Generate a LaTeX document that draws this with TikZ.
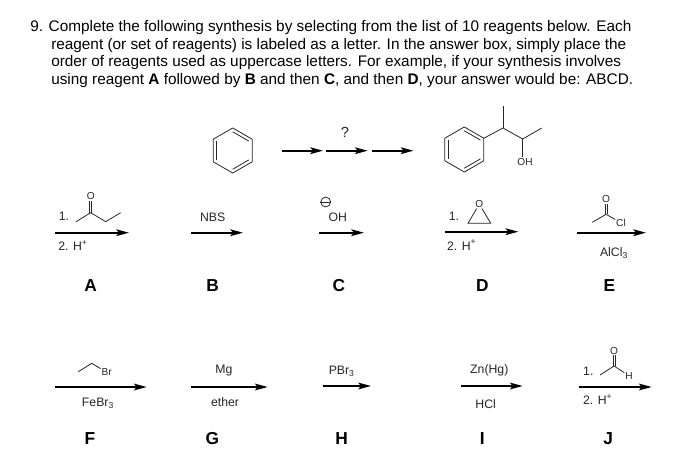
\documentclass[tikz,border=0pt]{standalone}
\usepackage{fontspec}
\setmainfont{Liberation Sans}
\usetikzlibrary{arrows.meta,calc}
\begin{document}
\begin{tikzpicture}[x=0.75pt,y=-0.75pt,
  line/.style={anchor=west,inner sep=0pt,font=\fontsize{11.5}{13}\selectfont},
  reag/.style={inner sep=0.6pt,text=black!85,font=\fontsize{9.2}{11}\selectfont},
  tiny/.style={inner sep=0.6pt,text=black!85,font=\fontsize{7.6}{9}\selectfont},
  letter/.style={inner sep=0pt,font=\fontsize{13}{15}\selectfont\bfseries},
  rxn/.style={draw,line width=1.5pt,-{Stealth[length=9.5pt,width=5pt,inset=2pt]}},
  bond/.style={draw,line width=0.6pt,black!85},
  dbll/.style={bond,transform canvas={xshift=-0.7pt}},
  dblr/.style={bond,transform canvas={xshift=0.7pt}}]
\useasboundingbox (0,0) rectangle (685,471);

\node[line] (t1) at (30,28) {9. Complete the following synthesis by selecting from the list of 10 reagents below. Each};
\node[line] (t2) at (51,46) {reagent (or set of reagents) is labeled as a letter. In the answer box, simply place the};
\node[line] (t3) at (51,63) {order of reagents used as uppercase letters. For example, if your synthesis involves};
\node[line] (t4) at (51,81) {using reagent \textbf{A} followed by \textbf{B} and then \textbf{C}, and then \textbf{D}, your answer would be: ABCD.};

\coordinate (ring0) at (232.7,150.5);
\coordinate (ring1) at (464.3,149.5);
\foreach \i/\a in {1/90,2/30,3/-30,4/-90,5/-150,6/150} {
  \coordinate (b\i) at ($(ring0)+(\a:16.9pt)$);
  \coordinate (bin\i) at ($(ring0)!0.83!(b\i)$);
  \coordinate (p\i) at ($(ring1)+(\a:16.9pt)$);
  \coordinate (pin\i) at ($(ring1)!0.83!(p\i)$);
}
\path[bond] (b1) -- (b2) -- (b3) -- (b4) -- (b5) -- (b6) -- cycle;
\path[bond] (bin1) -- (bin2);
\path[bond] (bin3) -- (bin4);
\path[bond] (bin5) -- (bin6);
\path[bond] (p1) -- (p2) -- (p3) -- (p4) -- (p5) -- (p6) -- cycle;
\path[bond] (pin1) -- (pin2);
\path[bond] (pin3) -- (pin4);
\path[bond] (pin5) -- (pin6);

\coordinate (s1) at (503,128);
\coordinate (s2) at (503,106);
\coordinate (s3) at (522.7,139);
\coordinate (s4) at (541.7,128);
\node[tiny] (oh) at (525,162) {OH};
\path[bond] (p2) -- (s1) -- (s3) -- (s4);
\path[bond] (s1) -- (s2);
\path[bond] (s3) -- (s3 |- oh.north);

\coordinate (q1) at (282,150.7);
\coordinate (q2) at (323,150.7);
\coordinate (q3) at (326,150.7);
\coordinate (q4) at (367.7,150.7);
\coordinate (q5) at (372,150.7);
\coordinate (q6) at (413.5,150.7);
\path[rxn] (q1) -- (q2);
\path[rxn] (q3) -- (q4);
\path[rxn] (q5) -- (q6);
\node[reag,font=\fontsize{11}{13}\selectfont] (ask) at (345,132) {?};

\coordinate (a1) at (55,232.7);
\coordinate (a2) at (129,232.7);
\path[rxn] (a1) -- (a2);
\node[reag] (a3) at (64,216.7) {1.};
\coordinate (a4) at (76,221.7);
\coordinate (a5) at (90.7,212.7);
\coordinate (a6) at (105.7,221.7);
\coordinate (a7) at (120.7,212.7);
\node[tiny] (a8) at (90.7,196) {O};
\path[bond] (a4) -- (a5) -- (a6) -- (a7);
\path[dbll] (a5) -- (a8);
\path[dblr] (a5) -- (a8);
\node[reag] (a9) at (73,245.5) {2. H\textsuperscript{+}};
\node[letter] (la) at (90.7,286) {A};

\coordinate (b7) at (191,232.7);
\coordinate (b8) at (243,232.7);
\path[rxn] (b7) -- (b8);
\node[reag] (b9) at (212.7,217) {NBS};
\node[letter] (lb) at (212.7,286) {B};

\coordinate (c1) at (319,232.7);
\coordinate (c2) at (364,232.7);
\path[rxn] (c1) -- (c2);
\node[reag] (c3) at (337.7,217) {OH};
\node[draw,circle,line width=0.6pt,black!85,minimum size=7.4pt,inner sep=0pt] (c4) at (325.7,202) {};
\path[bond] (c4.west) -- (c4.east);
\node[letter] (lc) at (339,286) {C};

\coordinate (d1) at (445,231.7);
\coordinate (d2) at (518.3,231.7);
\path[rxn] (d1) -- (d2);
\node[reag] (d3) at (454,216) {1.};
\coordinate (d4) at (468,223.3);
\coordinate (d5) at (490.7,223.3);
\node[tiny] (d6) at (479.3,204) {O};
\path[bond] (d6) -- (d4) -- (d5) -- (d6);
\node[reag] (d7) at (461.7,245) {2. H\textsuperscript{+}};
\node[letter] (ld) at (482.3,286) {D};

\coordinate (e1) at (577,232.7);
\coordinate (e2) at (646,232.7);
\path[rxn] (e1) -- (e2);
\coordinate (e3) at (592.3,222.3);
\coordinate (e4) at (606,214.3);
\node[tiny] (e5) at (606,199) {O};
\node[tiny] (e6) at (621,222.7) {Cl};
\path[bond] (e3) -- (e4) -- (e6);
\path[dbll] (e4) -- (e5);
\path[dblr] (e4) -- (e5);
\node[reag] (e7) at (614,253.5) {AlCl\textsubscript{3}};
\node[letter] (le) at (609.3,286) {E};

\coordinate (f1) at (55,387);
\coordinate (f2) at (146.7,387);
\path[rxn] (f1) -- (f2);
\coordinate (f3) at (78.3,371.7);
\coordinate (f4) at (91.7,363.3);
\node[tiny] (f5) at (106.7,372.3) {Br};
\path[bond] (f3) -- (f4) -- (f5);
\node[reag] (f6) at (98,403.5) {FeBr\textsubscript{3}};
\node[letter] (lf) at (90,439) {F};

\coordinate (g1) at (191,387);
\coordinate (g2) at (267.7,387);
\path[rxn] (g1) -- (g2);
\node[reag] (g3) at (224,371) {Mg};
\node[reag] (g4) at (225,402.3) {ether};
\node[letter] (lg) at (212.3,439) {G};

\coordinate (h1) at (323.3,386);
\coordinate (h2) at (371,386);
\path[rxn] (h1) -- (h2);
\node[reag] (h3) at (341.7,371) {PBr\textsubscript{3}};
\node[letter] (lh) at (341.7,439) {H};

\coordinate (i1) at (461,386);
\coordinate (i2) at (522.7,386);
\path[rxn] (i1) -- (i2);
\node[reag] (i3) at (489.3,370.7) {Zn(Hg)};
\node[reag] (i4) at (485.7,404.3) {HCl};
\node[letter] (li) at (482.3,439) {I};

\coordinate (j1) at (579,387);
\coordinate (j2) at (651.7,387);
\path[rxn] (j1) -- (j2);
\node[reag] (j3) at (588.3,371) {1.};
\coordinate (j4) at (600,375);
\coordinate (j5) at (614,366);
\node[tiny] (j6) at (614,350.7) {O};
\node[tiny] (j7) at (629,375.7) {H};
\path[bond] (j4) -- (j5) -- (j7);
\path[dbll] (j5) -- (j6);
\path[dblr] (j5) -- (j6);
\node[reag] (j8) at (597.7,399.3) {2. H\textsuperscript{+}};
\node[letter] (lj) at (608.3,439) {J};
\end{tikzpicture}
\end{document}
